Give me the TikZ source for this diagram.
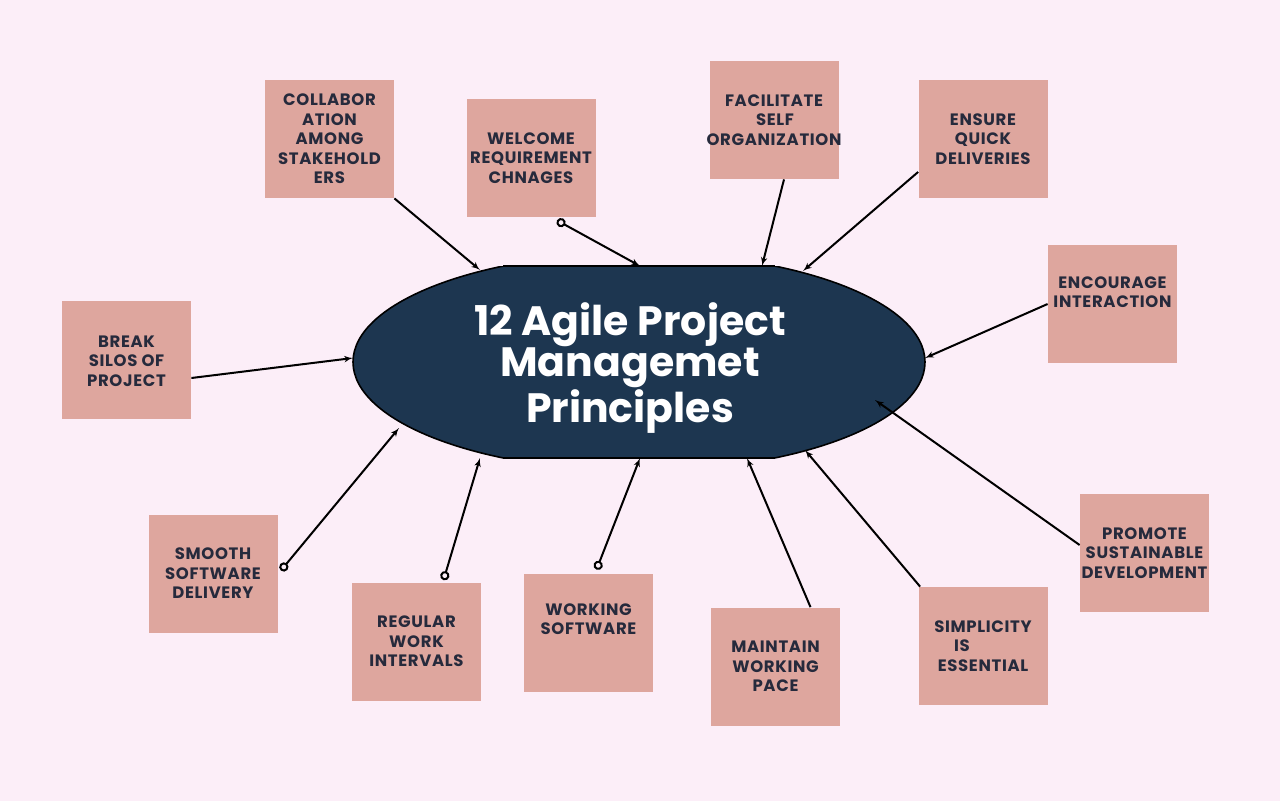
\documentclass[tikz,border=0pt]{standalone}
\usepackage{fontspec}
\usepackage{tikz}
\usetikzlibrary{arrows}
\usetikzlibrary{backgrounds}

\newfontfamily\boxfont[LetterSpace=4]{Poppins}
\newfontfamily\titlefont{Poppins}
\newcommand{\wideline}[1]{\makebox[110pt][c]{#1}}

\definecolor{bgpink}{RGB}{252,238,248}
\definecolor{boxpink}{RGB}{222,166,158}
\definecolor{hubnavy}{RGB}{29,54,80}
\definecolor{inknavy}{RGB}{38,42,60}

\begin{document}
\begin{tikzpicture}[x=1pt, y=-1pt, thick]
    \tikzset{principle/.style = {rectangle, fill=boxpink, minimum width=129pt, minimum height=118pt,
        inner sep=0pt, align=center, text=inknavy, font=\boxfont\bfseries\fontsize{16.5}{19.5}\selectfont}}
    \tikzset{edge/.style = {-latex', line width=2pt}}
    \tikzset{tailedge/.style = {o-latex', line width=2pt}}

    \fill[bgpink] (0,0) rectangle (1280,801);
    \useasboundingbox (0,0) rectangle (1280,801);

    % hub
    \begin{scope}
      \clip (340,266) rectangle (940,458);
      \filldraw[fill=hubnavy, draw=black, line width=1.6pt] (639,362) ellipse [x radius=286, y radius=109];
    \end{scope}
    \draw[black, line width=1.6pt] (503,266) -- (775,266) (503,458) -- (775,458);
    \node[text=white, align=center, font=\titlefont\bfseries\fontsize{41}{40}\selectfont] (title) at (630,368)
      {12 Agile Project\\Managemet\\Principles};

    % ends on the hub
    \coordinate (hcollab) at (480,270);
    \coordinate (hwelcome) at (640,266);
    \coordinate (hfacilitate) at (762,266);
    \coordinate (hensure) at (803,271);
    \coordinate (hencourage) at (925,358);
    \coordinate (hpromote) at (875,400);
    \coordinate (hsimplicity) at (805,450);
    \coordinate (hmaintain) at (747,458);
    \coordinate (hworking) at (640,458);
    \coordinate (hregular) at (480,458);
    \coordinate (hsmooth) at (399,428);
    \coordinate (hsilos) at (353,358);

    % principles
    \node[principle] (collab) at (329.5,139) {COLLABOR\\ATION\\AMONG\\STAKEHOLD\\ERS};
    \node[principle] (welcome) at (531,158) {WELCOME\\\wideline{REQUIREMENT}\\CHNAGES};
    \node[principle] (facilitate) at (774,120) {FACILITATE\\\makebox[40pt][r]{SELF}\\\wideline{ORGANIZATION}};
    \node[principle] (ensure) at (983,139) {ENSURE\\QUICK\\DELIVERIES};
    \node[principle] (encourage) at (1112.5,304) {ENCOURAGE\\\wideline{INTERACTION}\\[4pt]};
    \node[principle] (promote) at (1144.5,553) {PROMOTE\\SUSTAINABLE\\\wideline{DEVELOPMENT}};
    \node[principle] (simplicity) at (983,646) {SIMPLICITY\\\makebox[58pt][l]{IS}\\ESSENTIAL};
    \node[principle] (maintain) at (775.5,666.5) {MAINTAIN\\WORKING\\PACE};
    \node[principle] (working) at (588.5,633) {WORKING\\SOFTWARE\\[8pt]};
    \node[principle] (regular) at (416.5,641.5) {REGULAR\\WORK\\INTERVALS};
    \node[principle] (smooth) at (213,573.5) {SMOOTH\\SOFTWARE\\DELIVERY};
    \node[principle] (silos) at (126.5,360) {\\[-6pt]BREAK\\SILOS OF\\PROJECT};

    % edges
    \draw[edge] (collab.south east) -- (hcollab);
    \draw[tailedge] ([xshift=26pt, yshift=-3pt]welcome.south) -- (hwelcome);
    \draw[edge] ([xshift=10pt]facilitate.south) -- (hfacilitate);
    \draw[edge] ([yshift=-33pt]ensure.west) -- (hensure);
    \draw[edge] (encourage.west) -- (hencourage);
    \draw[edge] ([yshift=8pt]promote.west) -- (hpromote);
    \draw[edge] ([xshift=2pt]simplicity.north west) -- (hsimplicity);
    \draw[edge] ([xshift=35pt]maintain.north) -- (hmaintain);
    \draw[tailedge] ([xshift=8pt, yshift=4pt]working.north) -- (hworking);
    \draw[tailedge] ([xshift=27pt, yshift=2pt]regular.north) -- (hregular);
    \draw[tailedge] ([xshift=3pt, yshift=3pt]smooth.east) -- (hsmooth);
    \draw[edge] ([yshift=-18pt]silos.east) -- (hsilos);
  \end{tikzpicture}
\end{document}
